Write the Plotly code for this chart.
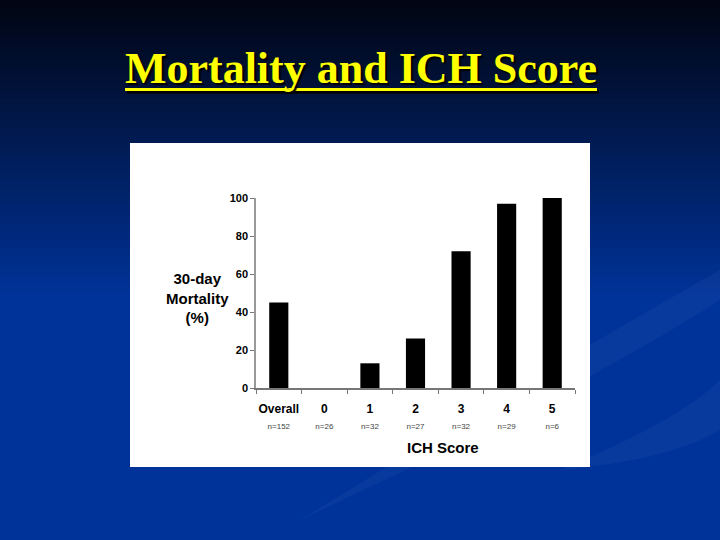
import plotly.graph_objects as go

# Data
categories = ['Overall', '0', '1', '2', '3', '4', '5']
group_sizes = ['n=152', 'n=26', 'n=32', 'n=27', 'n=32', 'n=29', 'n=6']
mortality = [45, 0, 13, 26, 72, 97, 100]

W, H = 720, 540
# plot area in pixels
X0, X1 = 256, 575
Y0, Y1 = 198, 388


def px(x):
    return (x - X0) / (X1 - X0)


def py(y):
    return (Y1 - y) / (Y1 - Y0)


tick_text = [
    f"<b>{c}</b><br><span style='font-size:8px;color:#444'>{n}</span>"
    for c, n in zip(categories, group_sizes)
]

fig = go.Figure()

fig.add_trace(go.Bar(
    x=categories,
    y=mortality,
    width=0.42,
    marker=dict(color='black', line=dict(width=0)),
    hovertemplate='%{y}%<extra></extra>',
))

shapes = []
# slide background gradient (dark top to blue)
n_strips = 40
for i in range(n_strips):
    t = i / (n_strips - 1)
    r = int(2 + (0 - 2) * t)
    g = int(6 + (51 - 6) * t)
    b = int(20 + (153 - 20) * t)
    top = 300 * i / n_strips
    bot = 300 * (i + 1) / n_strips + 1
    shapes.append(dict(type='rect', xref='paper', yref='paper', layer='below',
                       x0=px(0), x1=px(W), y0=py(bot), y1=py(top),
                       fillcolor=f'rgb({r},{g},{b})', line=dict(width=0)))
shapes.append(dict(type='rect', xref='paper', yref='paper', layer='below',
                   x0=px(0), x1=px(W), y0=py(H), y1=py(299),
                   fillcolor='rgb(0,51,153)', line=dict(width=0)))
# faint swirl lower right
shapes.append(dict(type='path', xref='paper', yref='paper', layer='below',
                   path=f'M {px(300)} {py(520)} Q {px(560)} {py(360)} {px(720)} {py(270)} '
                        f'L {px(720)} {py(300)} Q {px(580)} {py(390)} {px(300)} {py(520)} Z',
                   fillcolor='rgba(120,160,230,0.07)', line=dict(width=0)))
shapes.append(dict(type='path', xref='paper', yref='paper', layer='below',
                   path=f'M {px(560)} {py(470)} Q {px(680)} {py(420)} {px(720)} {py(380)} '
                        f'L {px(720)} {py(430)} Q {px(670)} {py(460)} {px(560)} {py(470)} Z',
                   fillcolor='rgba(120,160,230,0.07)', line=dict(width=0)))
# white chart panel
shapes.append(dict(type='rect', xref='paper', yref='paper', layer='below',
                   x0=px(130), x1=px(590), y0=py(467), y1=py(143),
                   fillcolor='white', line=dict(width=0)))
# title underline with shadow
shapes.append(dict(type='line', xref='paper', yref='paper',
                   x0=px(127), x1=px(599), y0=py(92), y1=py(92),
                   line=dict(color='black', width=3)))
shapes.append(dict(type='line', xref='paper', yref='paper',
                   x0=px(125), x1=px(597), y0=py(89.5), y1=py(89.5),
                   line=dict(color='#ffff00', width=3)))

annotations = [
    dict(text='<b>30-day<br>Mortality<br>(%)</b>', xref='paper', yref='paper',
         x=px(197), y=py(298), xanchor='center', yanchor='middle', showarrow=False,
         font=dict(family='Liberation Sans', size=15, color='black')),
    dict(text='<b>ICH Score</b>', xref='paper', yref='paper',
         x=px(443), y=py(447), xanchor='center', yanchor='middle', showarrow=False,
         font=dict(family='Liberation Sans', size=15, color='black')),
]

fig.update_layout(
    width=W, height=H,
    margin=dict(l=X0, r=W - X1, t=Y0, b=H - Y1, pad=0),
    paper_bgcolor='rgb(0,51,153)',
    plot_bgcolor='rgba(0,0,0,0)',
    showlegend=False,
    title=dict(
        text='Mortality and ICH Score',
        x=361 / W, xanchor='center', xref='container',
        y=1 - 68 / H, yanchor='middle', yref='container',
        font=dict(family='Liberation Serif', size=44, color='#ffff00',
                  weight='bold', shadow='2px 2px 1px black'),
    ),
    xaxis=dict(
        tickvals=categories, ticktext=tick_text, range=[-0.5, 6.5],
        tickangle=0, ticklabelstandoff=9,
        showline=True, linecolor='#777', linewidth=1.5,
        ticks='outside', tickson='boundaries', ticklen=4, tickcolor='#777',
        tickfont=dict(family='Liberation Sans', size=12, color='black'),
        showgrid=False, zeroline=False,
    ),
    yaxis=dict(
        range=[0, 100], tickvals=[0, 20, 40, 60, 80, 100],
        showline=True, linecolor='#999', linewidth=1.5,
        ticks='outside', ticklen=4, tickcolor='#777',
        tickfont=dict(family='Liberation Sans', size=11, color='black', weight='bold'),
        showgrid=False, zeroline=False,
    ),
    shapes=shapes,
    annotations=annotations,
)

fig.write_html('out.html', config={'displayModeBar': False},
               post_script="document.body.style.margin='0';")
